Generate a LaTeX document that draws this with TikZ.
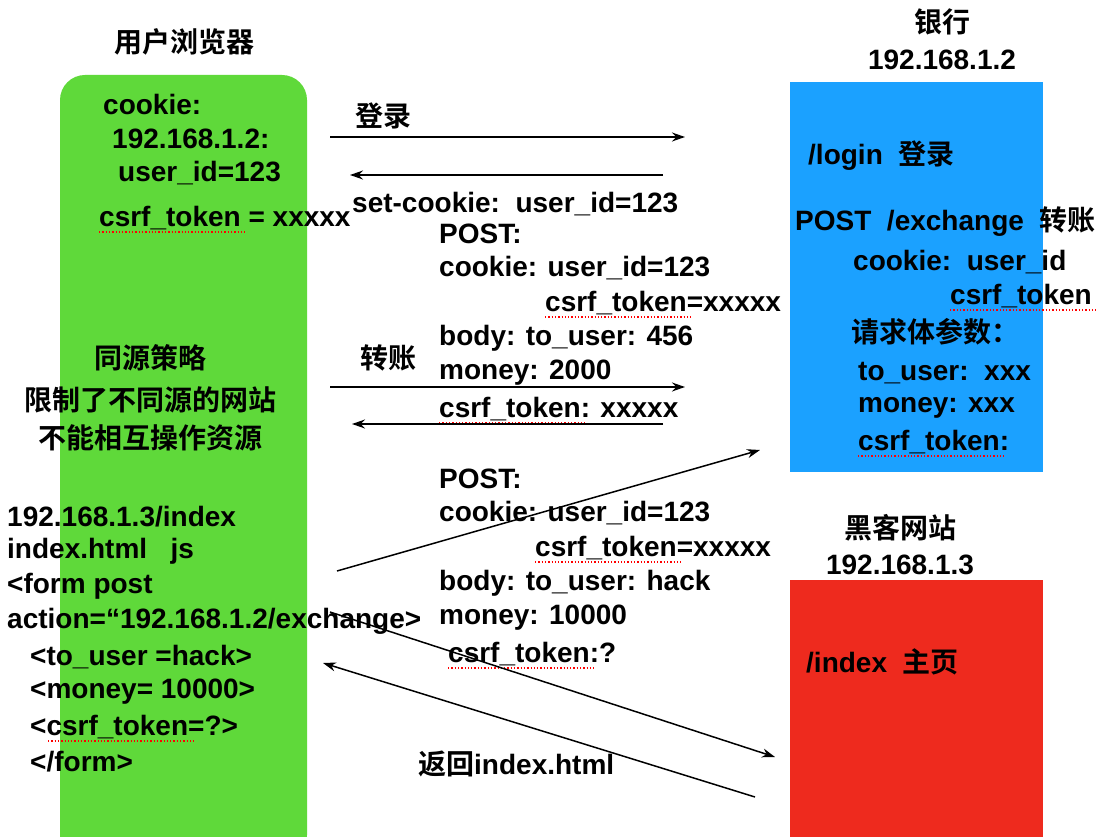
\documentclass[tikz,border=0pt]{standalone}
\usepackage{fontspec}
\setmainfont{Liberation Sans}
\newfontfamily\cjk{Noto Sans CJK SC}[BoldFont={Noto Sans CJK SC Bold}]
\usetikzlibrary{arrows.meta}
\definecolor{gr}{HTML}{5FD93A}
\definecolor{bl}{HTML}{1BA1FF}
\definecolor{rd}{HTML}{EE2A1E}
\begin{document}
\begin{tikzpicture}[x=1pt,y=-1pt,
  t/.style={anchor=west,inner sep=0pt,font=\fontsize{28}{32}\selectfont\bfseries},
  c/.style={anchor=center,inner sep=0pt,font=\fontsize{28}{32}\selectfont\bfseries},
  ar/.style={line width=1.5pt,-{Stealth[length=13pt,width=9pt]}},
  sp/.style={red,dotted,line width=1.3pt}]
\useasboundingbox (0,0) rectangle (1117,837);
\fill[white] (0,0) rectangle (1117,837);
\fill[gr,rounded corners=25pt] (60,75) rectangle (307,860);
\fill[bl] (790,82) rectangle (1043,472);
\fill[rd] (790,580) rectangle (1043,837);
\node[c] (ub) at (184,42) {\cjk\bfseries 用户浏览器};
\node[t] (ck) at (103,104) {cookie:};
\node[t] (ip1) at (112,139) {192.168.1.2:};
\node[t] (uid) at (118,173) {user\_id=123};
\node[t] (cs) at (99,218) {csrf\_token = xxxxx};
\node[t] (dl) at (355,116) {\cjk\bfseries 登录};
\node[t] (sc) at (352,204) {set-cookie:\ \ user\_id=123};
\node[t] (p1) at (439,234) {POST:};
\node[t] (p2) at (439,268) {cookie: user\_id=123};
\node[t] (p3) at (545,303) {csrf\_token=xxxxx};
\node[t] (p4) at (439,338) {body: to\_user: 456};
\node[t] (zz) at (360,358) {\cjk\bfseries 转账};
\node[t] (p5) at (439,373) {money: 2000};
\node[t] (p6) at (439,409) {csrf\_token: xxxxx};
\node[c] (s1) at (150,358) {\cjk\bfseries 同源策略};
\node[c] (s2) at (150,400) {\cjk\bfseries 限制了不同源的网站};
\node[c] (s3) at (150,438) {\cjk\bfseries 不能相互操作资源};
\node[t] (h1) at (7,517) {192.168.1.3/index};
\node[t] (h2) at (7,551) {index.html\ \ \ js};
\node[t] (h3) at (7,586) {<form post};
\node[t] (h4) at (7,621) {action=“192.168.1.2/exchange>};
\node[t] (h5) at (30,657) {<to\_user =hack>};
\node[t] (h6) at (30,692) {<money= 10000>};
\node[t] (h7) at (30,727) {<csrf\_token=?>};
\node[t] (h8) at (30,762) {</form>};
\node[t] (q1) at (439,479) {POST:};
\node[t] (q2) at (439,513) {cookie: user\_id=123};
\node[t] (q3) at (535,548) {csrf\_token=xxxxx};
\node[t] (q4) at (439,583) {body: to\_user: hack};
\node[t] (q5) at (439,618) {money: 10000};
\node[t] (q6) at (448,654) {csrf\_token:?};
\node[t] (rt) at (418,764) {\cjk\bfseries 返回\normalfont\fontsize{28}{32}\selectfont\bfseries index.html};
\node[c] (bk) at (942,22) {\cjk\bfseries 银行};
\node[c] (bip) at (942,60) {192.168.1.2};
\node[t] (b1) at (808,156) {/login\ \ \cjk\bfseries 登录};
\node[t] (b2) at (795,222) {POST\ \ /exchange\ \ \cjk\bfseries 转账};
\node[t] (b3) at (853,262) {cookie:\ \ user\_id};
\node[t] (b4) at (950,296) {csrf\_token};
\node[t] (b5) at (851,332) {\cjk\bfseries 请求体参数：};
\node[t] (b6) at (858,373) {to\_user:\ \ xxx};
\node[t] (b7) at (858,408) {money: xxx};
\node[t] (b8) at (858,442) {csrf\_token:};
\node[c] (hk) at (900,528) {\cjk\bfseries 黑客网站};
\node[c] (hip) at (900,565) {192.168.1.3};
\node[t] (r1) at (806,662) {/index\ \ \cjk\bfseries 主页};
% spell underlines
\draw[sp] (99,232) -- (245,232);
\draw[sp] (545,317) -- (691,317);
\draw[sp] (439,423) -- (585,423);
\draw[sp] (535,562) -- (681,562);
\draw[sp] (448,668) -- (594,668);
\draw[sp] (48,741) -- (194,741);
\draw[sp] (950,310) -- (1096,310);
\draw[sp] (858,456) -- (1004,456);
% arrows
\coordinate (a1s) at (330,137); \coordinate (a1e) at (685,137);
\coordinate (a2s) at (663,175); \coordinate (a2e) at (350,175);
\coordinate (a3s) at (330,387); \coordinate (a3e) at (685,387);
\coordinate (a4s) at (663,424); \coordinate (a4e) at (352,424);
\coordinate (a5s) at (337,571); \coordinate (a5e) at (760,450);
\coordinate (a6s) at (330,612); \coordinate (a6e) at (775,757);
\coordinate (a7s) at (755,797); \coordinate (a7e) at (323,663);
\draw[ar] (a1s) -- (a1e);
\draw[ar] (a2s) -- (a2e);
\draw[ar] (a3s) -- (a3e);
\draw[ar] (a4s) -- (a4e);
\draw[ar] (a5s) -- (a5e);
\draw[ar] (a6s) -- (a6e);
\draw[ar] (a7s) -- (a7e);
\end{tikzpicture}
\end{document}
